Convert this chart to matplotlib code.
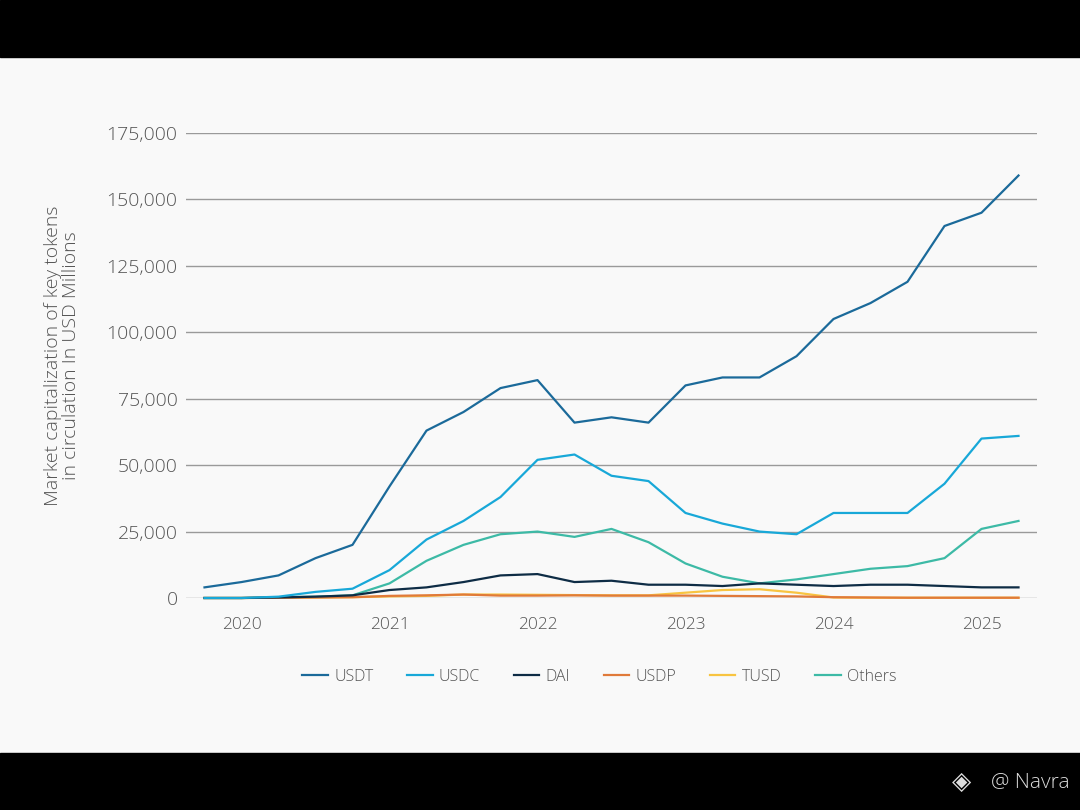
import matplotlib.pyplot as plt
import matplotlib.patches as mpatches
from matplotlib.ticker import FuncFormatter

# quarterly points, Q4 2019 .. Q2 2025
quarters = list(range(23))
year_ticks = [1, 5, 9, 13, 17, 21]
year_labels = ['2020', '2021', '2022', '2023', '2024', '2025']

usdt = [4000, 6000, 8500, 15000, 20000, 42000, 63000, 70000, 79000, 82000, 66000, 68000,
        66000, 80000, 83000, 83000, 91000, 105000, 111000, 119000, 140000, 145000, 159000]
usdc = [0, 0, 500, 2300, 3500, 10500, 22000, 29000, 38000, 52000, 54000, 46000,
        44000, 32000, 28000, 25000, 24000, 32000, 32000, 32000, 43000, 60000, 61000]
dai = [0, 0, 200, 500, 1000, 3000, 4000, 6000, 8500, 9000, 6000, 6500,
       5000, 5000, 4500, 5500, 5000, 4500, 5000, 5000, 4500, 4000, 4000]
usdp = [0, 0, 100, 200, 300, 800, 1000, 1300, 900, 900, 1000, 900,
        900, 900, 800, 700, 600, 300, 200, 100, 100, 100, 100]
tusd = [0, 0, 100, 200, 300, 600, 800, 1300, 1300, 1200, 1100, 1000,
        1000, 2000, 3000, 3300, 2000, 200, 100, 100, 100, 100, 100]
others = [0, 0, 300, 500, 1000, 5500, 14000, 20000, 24000, 25000, 23000, 26000,
          21000, 13000, 8000, 5500, 7000, 9000, 11000, 12000, 15000, 26000, 29000]

series = [
    ('USDT', usdt, '#1b6a9a'),
    ('USDC', usdc, '#18a8d8'),
    ('DAI', dai, '#0e2c45'),
    ('USDP', usdp, '#e07a3a'),
    ('TUSD', tusd, '#f8c441'),
    ('Others', others, '#3dbaa6'),
]

plt.rcParams['font.family'] = ['Open Sans', 'DejaVu Sans']
plt.rcParams['font.weight'] = 'light'

fig = plt.figure(figsize=(10.8, 8.1), dpi=100, facecolor='#f9f9f9')

# black bands top and bottom
fig.patches.append(mpatches.Rectangle((0, 1 - 57 / 810), 1, 57 / 810, transform=fig.transFigure,
                                      color='black', zorder=0))
fig.patches.append(mpatches.Rectangle((0, 0), 1, 57 / 810, transform=fig.transFigure,
                                      color='black', zorder=0))

ax = fig.add_axes([186 / 1080, (810 - 598) / 810, (1037 - 186) / 1080, 465 / 810])
ax.set_facecolor('#f9f9f9')

# reverse draw order so USDT sits on top
for name, vals, col in reversed(series):
    ax.plot(quarters, vals, color=col, lw=1.6, label=name, clip_on=False)

ax.set_ylim(0, 175000)
ax.set_xlim(-0.5, 22.5)
ax.set_yticks(range(0, 175001, 25000))
ax.yaxis.set_major_formatter(FuncFormatter(lambda v, p: f'{int(v):,}'))
ax.set_xticks(year_ticks)
ax.set_xticklabels(year_labels)
ax.grid(axis='y', color='#9a9a9a', lw=1)
ax.set_axisbelow(True)
for s in ax.spines.values():
    s.set_visible(False)
ax.tick_params(axis='both', length=0, labelcolor='#555555')
ax.tick_params(axis='x', pad=14, labelsize=12.5)
ax.tick_params(axis='y', pad=6, labelsize=14)

fig.text(62 / 1080, 1 - 356 / 810, 'Market capitalization of key tokens\nin circulation In USD Millions',
         rotation=90, ha='center', va='center', fontsize=14, color='#555555', linespacing=1.0)

handles, labels = ax.get_legend_handles_labels()
handles, labels = handles[::-1], labels[::-1]
fig.legend(handles, labels, loc='center', bbox_to_anchor=(0.555, 1 - 677 / 810), ncol=6,
           frameon=False, fontsize=11.5, handlelength=1.6, handletextpad=0.4, columnspacing=2.1,
           labelcolor='#555555')

# watermark
fig.text(1 - 10 / 1080, 28 / 810, '@ Navra', ha='right', va='center', fontsize=15, color='#dddddd')
fig.text(962 / 1080, 28 / 810, '\u25c8', ha='center', va='center', fontsize=18, color='#dddddd',
         family=['DejaVu Sans'], fontweight='normal')

fig.savefig('out.png', dpi=100, facecolor=fig.get_facecolor())
